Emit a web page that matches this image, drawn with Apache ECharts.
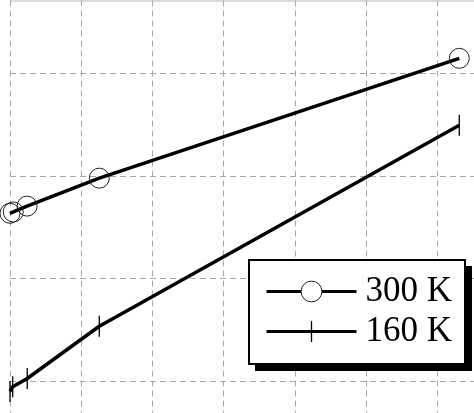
<!DOCTYPE html>
<html>
<head>
<meta charset="utf-8">
<script src="https://cdn.jsdelivr.net/npm/echarts@6/dist/echarts.min.js"></script>
<style>html,body{margin:0;padding:0;background:#fff;}#c{width:474px;height:413px;}</style>
</head>
<body>
<div id="c"></div>
<script>
// x positions (arbitrary units, grid step 5)
const xValues160 = [0, 0.19, 1.21, 6.27, 31.55];
const xValues300 = [0, 0.23, 1.2, 6.27, 31.55];
const seriesNames = ['300 K', '160 K'];
const values300K = [1.636, 1.649, 1.706, 1.978, 3.145];
const values160K = [-0.099, -0.053, 0.027, 0.536, 2.493];

const chart = echarts.init(document.getElementById('c'), null, {renderer: 'canvas'});
const grid = '#a8a8a8';
const split = {show: true, lineStyle: {color: grid, width: 1, type: [6, 4]}};
chart.setOption({
  animation: false,
  backgroundColor: '#fff',
  grid: {left: 10, right: -34.4, top: -29.5, bottom: -71, containLabel: false, outerBoundsMode: 'none'},
  xAxis: {type: 'value', min: 0, max: 35, interval: 5,
    axisLine: {show: false}, axisTick: {show: false}, axisLabel: {show: false}, splitLine: split},
  yAxis: {type: 'value', min: -1, max: 4, interval: 1,
    axisLine: {show: false}, axisTick: {show: false}, axisLabel: {show: false}, splitLine: split},
  graphic: [
    {type: 'rect', shape: {x: 10, y: 0, width: 464, height: 2}, style: {fill: '#dcdcdc'}, silent: true, z: 0},
    {type: 'rect', shape: {x: 255, y: 266, width: 217, height: 105}, style: {fill: '#000'}, silent: true, z: 5},
    {type: 'rect', shape: {x: 249, y: 260, width: 216, height: 104}, style: {fill: '#fff', stroke: '#000', lineWidth: 2}, silent: true, z: 6}
  ],
  legend: {
    left: 248, top: 259, orient: 'vertical', z: 10,
    itemWidth: 90, itemHeight: 26, itemGap: 5,
    padding: [15, 14, 18, 17],
    textStyle: {fontFamily: 'Liberation Serif', fontSize: 35, color: '#000', padding: [0, 0, 0, 4]},
    data: [
      {name: seriesNames[0], itemStyle: {color: '#fff', borderColor: '#222', borderWidth: 1}, lineStyle: {width: 3, color: '#000'}},
      {name: seriesNames[1], icon: 'path://M0,0h0.01v0.01h-0.01zM0,11.5h90v3h-90zM44.35,2.5h1.3v21h-1.3zM89.99,25.99h0.01v0.01h-0.01z'}
    ]
  },
  series: [
    {name: seriesNames[0], type: 'line', symbol: 'circle', symbolSize: 20,
      data: xValues300.map((x, i) => [x, values300K[i]]),
      lineStyle: {color: '#000', width: 3.5},
      itemStyle: {color: 'transparent', borderColor: '#222', borderWidth: 1}},
    {name: seriesNames[1], type: 'line', symbol: 'rect', symbolSize: [1.3, 21],
      data: xValues160.map((x, i) => [x, values160K[i]]),
      lineStyle: {color: '#000', width: 3.5},
      itemStyle: {color: '#000'}}
  ]
});
</script>
</body>
</html>
